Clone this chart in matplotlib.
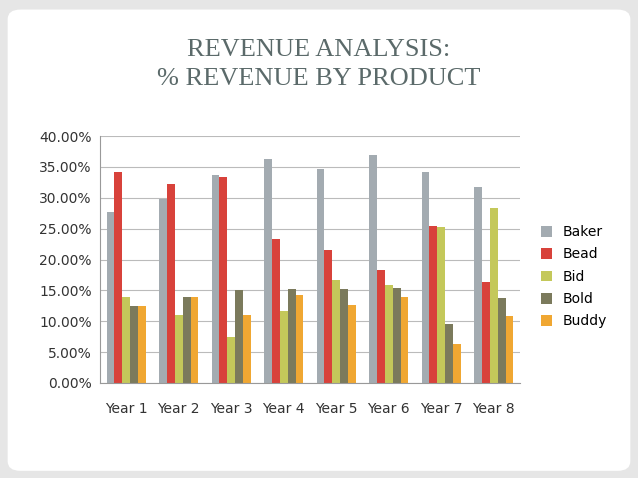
import matplotlib
matplotlib.use('Agg')
import matplotlib.pyplot as plt
from matplotlib.patches import FancyBboxPatch
import numpy as np

years = ['Year 1', 'Year 2', 'Year 3', 'Year 4', 'Year 5', 'Year 6', 'Year 7', 'Year 8']
baker = [27.7, 29.8, 33.7, 36.3, 34.7, 36.9, 34.2, 31.7]
bead = [34.2, 32.2, 33.4, 23.3, 21.5, 18.3, 25.4, 16.4]
bid = [13.9, 11.0, 7.4, 11.7, 16.7, 15.9, 25.3, 28.3]
bold = [12.5, 13.9, 15.1, 15.2, 15.2, 15.4, 9.6, 13.8]
buddy = [12.5, 13.9, 11.0, 14.3, 12.6, 13.9, 6.3, 10.9]
series = [('Baker', baker, '#a3abb1'), ('Bead', bead, '#d8423b'),
          ('Bid', bid, '#c4c85a'), ('Bold', bold, '#7b7a5c'),
          ('Buddy', buddy, '#f0a732')]

fig = plt.figure(figsize=(6.38, 4.78), dpi=100)
fig.patch.set_facecolor('#e6e6e6')
panel = FancyBboxPatch((0.012, 0.015), 0.976, 0.965, boxstyle='round,pad=0,rounding_size=0.02',
                       transform=fig.transFigure, facecolor='white', edgecolor='none',
                       zorder=-10)
fig.patches.append(panel)

fig.text(0.5, 0.895, 'REVENUE ANALYSIS:', ha='center', va='center', fontsize=19,
         family='Liberation Serif', color='#5b6a6a')
fig.text(0.5, 0.835, '% REVENUE BY PRODUCT', ha='center', va='center', fontsize=19,
         family='Liberation Serif', color='#5b6a6a')

ax = fig.add_axes([100 / 638, 95 / 478, 420 / 638, 247 / 478])
ax.set_facecolor('white')
x = np.arange(len(years))
w = 0.15
for i, (name, vals, col) in enumerate(series):
    ax.bar(x + (i - 2) * w, vals, w, color=col, label=name, edgecolor='none')

ax.set_ylim(0, 40)
ax.set_xlim(-0.5, len(years) - 0.5)
ax.set_yticks(np.arange(0, 41, 5))
ax.set_yticklabels([f'{v:.2f}%' for v in np.arange(0, 41, 5)])
ax.set_xticks(x)
ax.set_xticklabels(years)
ax.tick_params(labelsize=10, colors='#333333', length=0, pad=6)
ax.tick_params(axis='x', pad=14)
ax.grid(axis='y', color='#bbbbbb', linewidth=0.8)
ax.set_axisbelow(True)
for s in ['top', 'right']:
    ax.spines[s].set_visible(False)
ax.spines['left'].set_color('#999999')
ax.spines['bottom'].set_color('#999999')
ax.legend(loc='center left', bbox_to_anchor=(1.02, 0.43), frameon=False,
          fontsize=10, handlelength=0.8, handleheight=0.8, labelspacing=0.6)

fig.savefig('out.png', dpi=100, facecolor=fig.get_facecolor())
